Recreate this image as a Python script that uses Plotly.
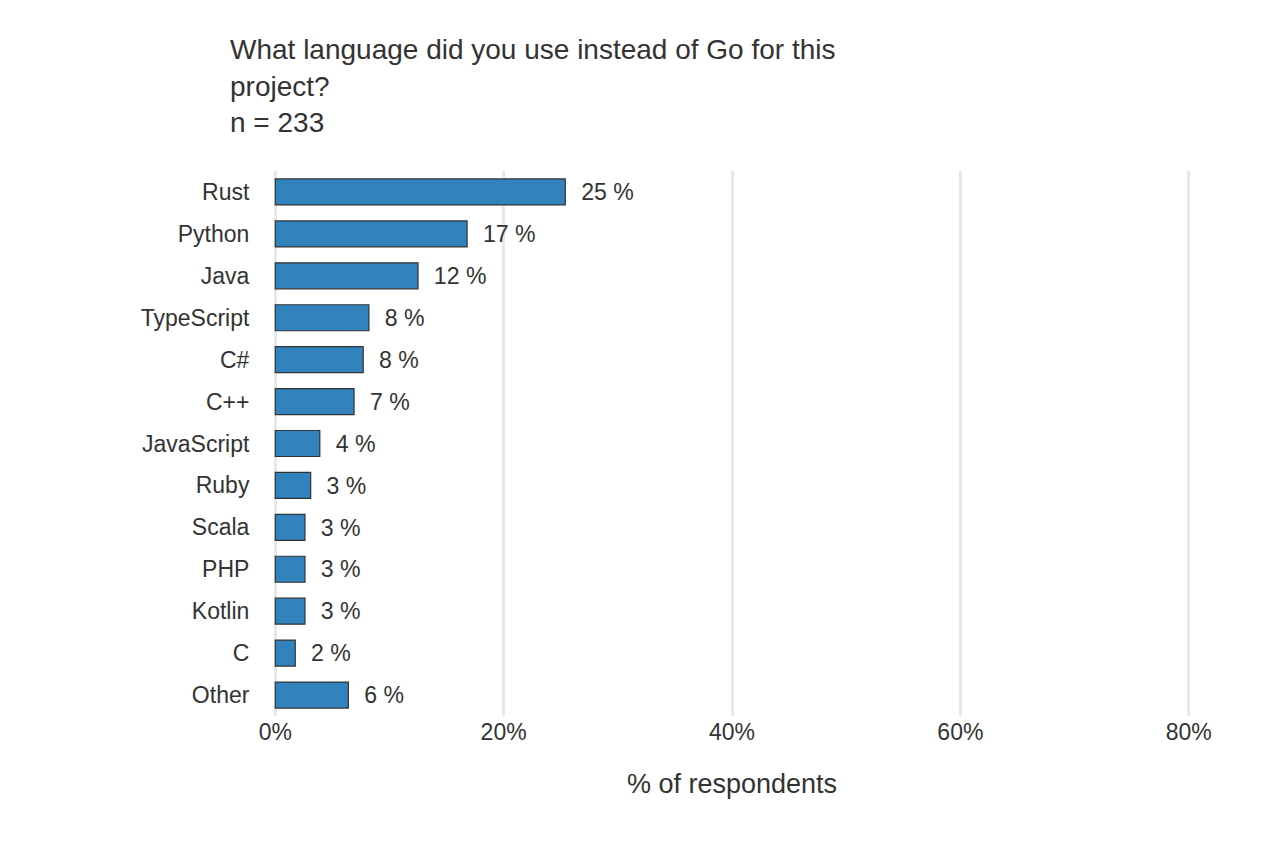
import plotly.graph_objects as go

languages = ["Rust", "Python", "Java", "TypeScript", "C#", "C++", "JavaScript", "Ruby", "Scala", "PHP", "Kotlin", "C", "Other"]
values = [25.4, 16.8, 12.5, 8.2, 7.7, 6.9, 3.9, 3.1, 2.6, 2.6, 2.6, 1.75, 6.4]
labels = ["25 %", "17 %", "12 %", "8 %", "8 %", "7 %", "4 %", "3 %", "3 %", "3 %", "3 %", "2 %", "6 %"]
tick_vals = [0, 20, 40, 60, 80]
tick_text = ["0%", "20%", "40%", "60%", "80%"]

fig = go.Figure(go.Bar(
    y=languages, x=values, orientation="h", width=0.62,
    marker=dict(color="#3182bd", line=dict(color="#333333", width=1.2)),
    text=["  " + t for t in labels], textposition="outside", cliponaxis=False,
    textfont=dict(size=24, color="#333333"),
))
fig.update_layout(
    width=1280, height=853,
    paper_bgcolor="white", plot_bgcolor="white",
    font=dict(family="Liberation Sans, Arial, sans-serif", color="#333333", size=24),
    margin=dict(l=265, r=97, t=163, b=145),
    title=dict(text="What language did you use instead of Go for this<br>project?<br><span style='font-size:28px'>n = 233</span>",
               x=222/1280, xanchor="left", y=0.94, yanchor="top", font=dict(size=28, color="#333333")),
    showlegend=False,
    xaxis=dict(range=[-0.2, 80.2], tickvals=tick_vals, ticktext=tick_text, showgrid=True,
               gridcolor="#e8e8e8", gridwidth=3, zeroline=False, showline=False, automargin=False,
               tickfont=dict(size=23), ticks="", 
               title=dict(text="% of respondents", font=dict(size=27), standoff=30)),
    yaxis=dict(autorange="reversed", showgrid=False, zeroline=False, ticks="outside", automargin=False,
               ticklen=18, tickcolor="white", tickfont=dict(size=23)),
)
fig.write_html("out.html")
